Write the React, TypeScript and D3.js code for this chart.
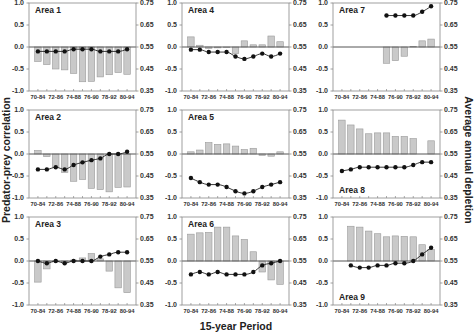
import React from "react";
import * as d3 from "d3";

const periods = ["70-84","71-85","72-86","73-87","74-88","75-89","76-90","77-91","78-92","79-93","80-94"];
const xTickLabels = ["70-84","72-86","74-88","76-90","78-92","80-94"];
const leftTicks = [1.0, 0.5, 0.0, -0.5, -1.0];
const rightTicks = [0.75, 0.65, 0.55, 0.45, 0.35];

type V = number | null;
const corr1: V[] = [-0.33,-0.40,-0.50,-0.52,-0.60,-0.79,-0.78,-0.68,-0.63,-0.58,-0.62];
const depl1: V[] = [0.53,0.53,0.53,0.53,0.54,0.54,0.54,0.53,0.53,0.53,0.54];
const corr2: V[] = [0.08,-0.06,-0.30,-0.42,-0.62,-0.58,-0.78,-0.81,-0.86,-0.76,-0.75];
const depl2: V[] = [0.48,0.48,0.49,0.48,0.50,0.512,0.522,0.53,0.55,0.55,0.56];
const corr3: V[] = [-0.48,-0.18,-0.02,-0.03,0.02,0.07,0.17,0.05,-0.23,-0.61,-0.72];
const depl3: V[] = [0.55,0.54,0.55,0.54,0.55,0.55,0.55,0.57,0.58,0.59,0.59];
const corr4: V[] = [0.23,0.04,-0.03,-0.02,-0.01,-0.15,0.14,0.05,0.05,0.25,0.12];
const depl4: V[] = [0.538,0.538,0.527,0.527,0.527,0.507,0.496,0.507,0.52,0.507,0.52];
const corr5: V[] = [0.05,0.09,0.26,0.22,0.23,0.18,0.10,0.13,-0.03,-0.05,0.05];
const depl5: V[] = [0.441,0.422,0.411,0.411,0.40,0.381,0.371,0.381,0.40,0.411,0.422];
const corr6: V[] = [0.61,0.64,0.65,0.77,0.77,0.57,0.49,0.21,-0.25,-0.43,-0.53];
const depl6: V[] = [0.489,0.50,0.489,0.50,0.489,0.489,0.489,0.50,0.53,0.54,0.55];
const corr7: V[] = [null,null,null,null,null,-0.37,-0.31,-0.21,0.01,0.14,0.18];
const depl7: V[] = [null,null,null,null,null,0.693,0.693,0.693,0.693,0.71,0.735];
const corr8: V[] = [0.77,0.66,0.57,0.46,0.48,0.48,0.40,0.40,0.35,null,0.30];
const depl8: V[] = [0.473,0.48,0.49,0.49,0.49,0.49,0.49,0.49,0.50,0.513,0.513];
const corr9: V[] = [null,0.79,0.77,0.68,0.62,0.55,0.57,0.56,0.55,0.37,0.26];
const depl9: V[] = [null,0.53,0.52,0.52,0.53,0.53,0.54,0.54,0.55,0.58,0.61];

const areaNames = ["Area 1","Area 2","Area 3","Area 4","Area 5","Area 6","Area 7","Area 8","Area 9"];
const corrs = [corr1,corr2,corr3,corr4,corr5,corr6,corr7,corr8,corr9];
const depls = [depl1,depl2,depl3,depl4,depl5,depl6,depl7,depl8,depl9];
const labelBottom = [false,false,false,false,false,false,false,true,true];

const colX = [29, 182, 333];
const rowY = [3, 110, 217];
const W = 107;
const H = 88;
const font = "Arial, 'Liberation Sans', sans-serif";

function Panel({ idx }: { idx: number }) {
  const col = Math.floor(idx / 3);
  const row = idx % 3;
  const x0 = colX[col];
  const y0 = rowY[row];
  const x = d3.scalePoint<string>().domain(periods).range([0, W]).padding(1);
  const yL = d3.scaleLinear().domain([-1, 1]).range([H, 0]);
  const yR = d3.scaleLinear().domain([0.35, 0.75]).range([H, 0]);
  const bw = 6.5;
  const corr = corrs[idx];
  const depl = depls[idx];
  const pts = depl.map((d, i) => ({ d, i })).filter((p) => p.d !== null) as { d: number; i: number }[];
  const line = d3
    .line<{ d: number; i: number }>()
    .x((p) => x(periods[p.i])!)
    .y((p) => yR(p.d))
    .curve(d3.curveMonotoneX);
  return (
    <g transform={`translate(${x0},${y0})`}>
      {corr.map((c, i) =>
        c === null ? null : (
          <rect
            key={i}
            x={x(periods[i])! - bw / 2}
            y={Math.min(yL(c), yL(0))}
            width={bw}
            height={Math.abs(yL(c) - yL(0))}
            fill="#c9c9c9"
            stroke="#9a9a9a"
            strokeWidth={0.6}
          />
        )
      )}
      <line x1={0} x2={W} y1={yL(0)} y2={yL(0)} stroke="#555" strokeWidth={1} />
      <path d={line(pts) || ""} fill="none" stroke="#222" strokeWidth={0.9} />
      {pts.map((p) => (
        <circle key={p.i} cx={x(periods[p.i])!} cy={yR(p.d)} r={2.2} fill="#111" />
      ))}
      <rect x={0} y={0} width={W} height={H} fill="none" stroke="#888" strokeWidth={0.8} />
      {leftTicks.map((t) => (
        <g key={"l" + t}>
          <line x1={-2.5} x2={0} y1={yL(t)} y2={yL(t)} stroke="#888" strokeWidth={0.8} />
          <text x={-5} y={yL(t)} dy="0.35em" textAnchor="end" fontSize={7} fontFamily={font} fill="#333" fontWeight="bold">
            {t.toFixed(1)}
          </text>
        </g>
      ))}
      {rightTicks.map((t) => (
        <g key={"r" + t}>
          <line x1={W} x2={W + 2.5} y1={yR(t)} y2={yR(t)} stroke="#888" strokeWidth={0.8} />
          <text x={W + 4} y={yR(t)} dy="0.35em" textAnchor="start" fontSize={7} fontFamily={font} fill="#333" fontWeight="bold">
            {t.toFixed(2)}
          </text>
        </g>
      ))}
      {periods.map((p) => (
        <line key={"t" + p} x1={x(p)!} x2={x(p)!} y1={H} y2={H - 2} stroke="#888" strokeWidth={0.7} />
      ))}
      {xTickLabels.map((p) => (
        <text key={"x" + p} x={x(p)!} y={H + 8} textAnchor="middle" fontSize={5.8} fontFamily={font} fill="#333" fontWeight="bold">
          {p}
        </text>
      ))}
      <text x={6} y={labelBottom[idx] ? H - 5 : 10} fontSize={8.5} fontFamily={font} fill="#222" fontWeight="bold">
        {areaNames[idx]}
      </text>
    </g>
  );
}

export default function App() {
  return (
    <svg width={474} height={335} style={{ position: "absolute", left: 0, top: 0, background: "#fff" }}>
      {areaNames.map((_, i) => (
        <Panel key={i} idx={i} />
      ))}
      <text transform="translate(10,160) rotate(-90)" textAnchor="middle" fontSize={10.5} fontFamily={font} fontWeight="bold" fill="#222">
        Predator-prey correlation
      </text>
      <text transform="translate(465,160) rotate(90)" textAnchor="middle" fontSize={10.5} fontFamily={font} fontWeight="bold" fill="#222">
        Average annual depletion
      </text>
      <text x={236} y={330} textAnchor="middle" fontSize={10.5} fontFamily={font} fontWeight="bold" fill="#222">
        15-year Period
      </text>
    </svg>
  );
}
